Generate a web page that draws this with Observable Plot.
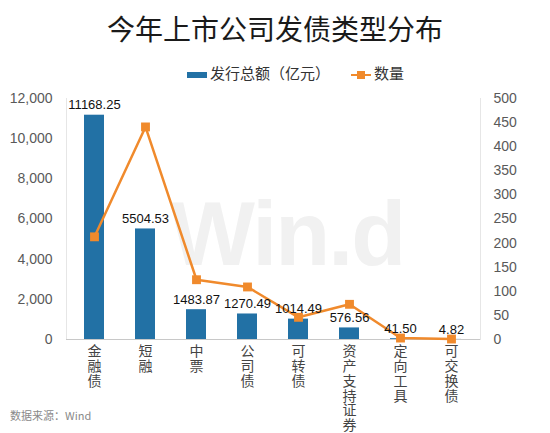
<!DOCTYPE html>
<html><head><meta charset="utf-8">
<script src="https://cdn.jsdelivr.net/npm/d3@7"></script>
<script src="https://cdn.jsdelivr.net/npm/@observablehq/plot@0.6"></script>
<style>
body{margin:0;background:#fff;}
#wrap{position:relative;width:550px;height:433px;overflow:hidden;background:#fff;font-family:"Liberation Sans","Noto Sans CJK SC",sans-serif;}
#title{position:absolute;left:0;top:10px;width:550px;text-align:center;font-size:28px;line-height:36px;color:#1a1a1a;font-family:"Noto Sans CJK SC",sans-serif;}
.leg{position:absolute;top:64px;font-size:15px;line-height:18px;color:#333;font-family:"Noto Sans CJK SC",sans-serif;}
#wm{position:absolute;left:170px;top:183px;font-size:90px;font-weight:bold;color:#f1f1f1;font-family:"Liberation Sans",sans-serif;letter-spacing:-2px;}
#chart{position:absolute;left:0;top:85px;}
#src{position:absolute;left:10px;top:407px;font-size:11px;color:#8a8a8a;font-family:"Noto Sans CJK SC",sans-serif;}
</style></head>
<body>
<div id="wrap">
<div id="wm">Win.d</div>
<div id="title">今年上市公司发债类型分布</div>
<div class="leg" style="left:187px;"><span style="display:inline-block;width:20px;height:6px;background:#2271a5;vertical-align:middle;margin-right:3px;"></span>发行总额（亿元）</div>
<div class="leg" style="left:351px;"><span style="display:inline-block;position:relative;width:20px;height:10px;vertical-align:middle;margin-right:3px;"><span style="position:absolute;left:0;top:4px;width:20px;height:2.5px;background:#f08a2c;"></span><span style="position:absolute;left:6px;top:1px;width:8px;height:8px;background:#f08a2c;"></span></span>数量</div>
<div id="chart"></div>
<div id="src">数据来源：Wind</div>
</div>
<script>
const categories = ["金融债","短融","中票","公司债","可转债","资产支持证券","定向工具","可交换债"];
const amounts = [11168.25, 5504.53, 1483.87, 1270.49, 1014.49, 576.56, 41.50, 4.82];
const counts = [213, 441, 124, 109, 46, 73, 3, 1];
const leftTicks = [0, 2000, 4000, 6000, 8000, 10000, 12000];
const rightTicks = [0, 50, 100, 150, 200, 250, 300, 350, 400, 450, 500];

const data = categories.map((c, i) => ({cat: c, amount: amounts[i], count: counts[i]}));
const k = 12000 / 500;

const chart = Plot.plot({
  width: 550, height: 348,
  marginTop: 13, marginBottom: 94, marginLeft: 66, marginRight: 70,
  style: {fontFamily: '"Liberation Sans","Noto Sans CJK SC",sans-serif', background: "transparent"},
  x: {domain: categories, paddingInner: 0.6, paddingOuter: 0.31},
  y: {domain: [0, 12000]},
  marks: [
    Plot.frame({anchor: "left", stroke: "#e6e6e6"}),
    Plot.frame({anchor: "right", stroke: "#e6e6e6"}),
    Plot.barY(data, {x: "cat", y: "amount", fill: "#2271a5"}),
    Plot.ruleY([0], {stroke: "#c8c8c8"}),
    Plot.line(data, {x: "cat", y: d => d.count * k, stroke: "#f08a2c", strokeWidth: 2.5}),
    Plot.dot(data, {x: "cat", y: d => d.count * k, symbol: "square", fill: "#f08a2c", r: 5}),
    Plot.text(data, {x: "cat", y: "amount", text: d => d.amount.toFixed(2), dy: -10, fontSize: 13, fill: "#111"}),
    Plot.axisY(leftTicks, {tickSize: 0, tickPadding: 14, fontSize: 14, color: "#595959", tickFormat: d3.format(","), label: null}),
    Plot.axisY(rightTicks.map(v => v * k), {anchor: "right", tickSize: 0, tickPadding: 13, fontSize: 14, color: "#595959", tickFormat: d => d / k, label: null}),
    Plot.axisX({tickSize: 0, tickPadding: 6, fontSize: 14, color: "#444", lineHeight: 1.06, fontFamily: '"Noto Sans CJK SC",sans-serif', tickFormat: d => d.split("").join("\n"), label: null})
  ]
});
document.getElementById("chart").appendChild(chart);
</script>
</body></html>
